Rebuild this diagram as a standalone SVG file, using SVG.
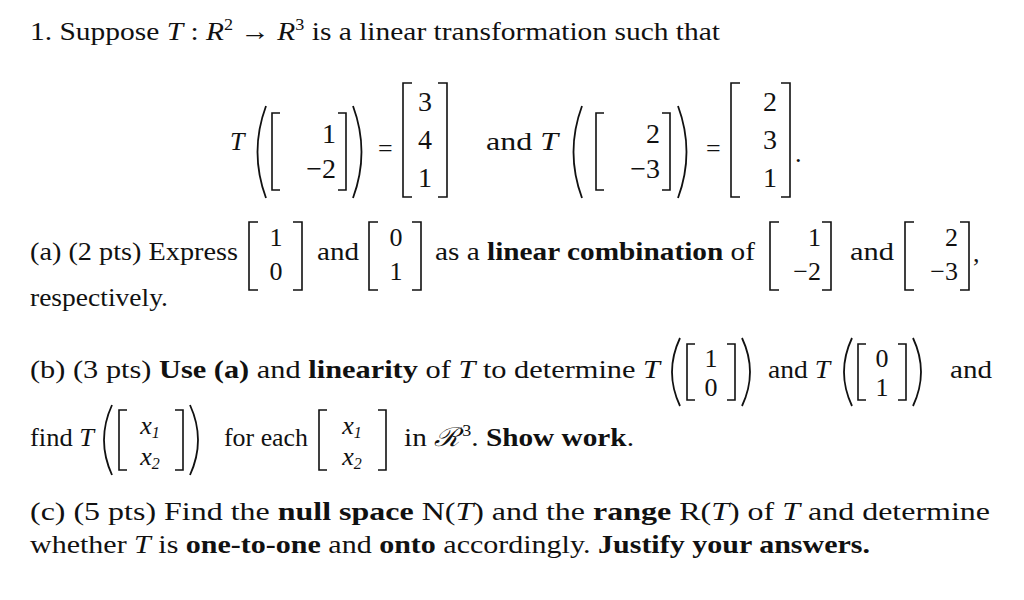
<svg xmlns="http://www.w3.org/2000/svg" width="1024" height="600" viewBox="0 0 1024 600">
<style>
text{font-family:"Liberation Serif","DejaVu Serif",serif;fill:#111;font-size:26px}
text.s{font-size:26px !important}
text.m{font-size:28px !important}
.i{font-style:italic}
.b{font-weight:bold}
.br{fill:none;stroke:#111;stroke-width:1.6}
.p{fill:none;stroke:#111;stroke-width:1.8}
</style>
<rect width="1024" height="600" fill="#fff"/>
<text x="30" y="40" textLength="690" lengthAdjust="spacingAndGlyphs">1. Suppose <tspan class="i">T</tspan> : <tspan class="i">R</tspan><tspan font-size="16" dy="-10">2</tspan><tspan dy="10"> → </tspan><tspan class="i">R</tspan><tspan font-size="16" dy="-10">3</tspan><tspan dy="10"> is a linear transformation such that</tspan></text>

<!-- equation row -->
<text x="230" y="150" class="i">T</text>
<path class="p" d="M266,106 Q249,152 266,198"/>
<path class="br" d="M280,113 H272 V190 H280"/>
<text class="m" x="336" y="143" text-anchor="end">1</text>
<text class="m" x="336" y="178" text-anchor="end">−2</text>
<path class="br" d="M338,113 H346 V190 H338"/>
<path class="p" d="M353,106 Q370,152 353,198"/>
<text x="378" y="157">=</text>
<path class="br" d="M412,83 H403 V197 H412"/>
<text class="m" x="425" y="111" text-anchor="middle">3</text>
<text class="m" x="425" y="149" text-anchor="middle">4</text>
<text class="m" x="425" y="187" text-anchor="middle">1</text>
<path class="br" d="M438,83 H447 V197 H438"/>
<text x="486" y="150" textLength="72" lengthAdjust="spacingAndGlyphs">and <tspan class="i">T</tspan></text>
<path class="p" d="M582,106 Q565,152 582,198"/>
<path class="br" d="M604,113 H596 V190 H604"/>
<text class="m" x="660" y="143" text-anchor="end">2</text>
<text class="m" x="660" y="178" text-anchor="end">−3</text>
<path class="br" d="M662,113 H670 V190 H662"/>
<path class="p" d="M678,106 Q695,152 678,198"/>
<text x="706" y="157">=</text>
<path class="br" d="M740,83 H731 V197 H740"/>
<text class="m" x="770" y="111" text-anchor="middle">2</text>
<text class="m" x="770" y="149" text-anchor="middle">3</text>
<text class="m" x="770" y="187" text-anchor="middle">1</text>
<path class="br" d="M781,83 H790 V197 H781"/>
<text x="795" y="162">.</text>

<!-- (a) -->
<text x="30" y="260" textLength="208" lengthAdjust="spacingAndGlyphs">(a) (2 pts) Express</text>
<path class="br" d="M258,222 H249 V290 H258"/>
<text class="s" x="276" y="246" text-anchor="middle">1</text>
<text class="s" x="276" y="280" text-anchor="middle">0</text>
<path class="br" d="M293,222 H302 V290 H293"/>
<text x="317" y="260" textLength="42" lengthAdjust="spacingAndGlyphs">and</text>
<path class="br" d="M378,222 H369 V290 H378"/>
<text class="s" x="396" y="246" text-anchor="middle">0</text>
<text class="s" x="396" y="280" text-anchor="middle">1</text>
<path class="br" d="M412,222 H421 V290 H412"/>
<text x="435" y="260" textLength="320" lengthAdjust="spacingAndGlyphs">as a <tspan class="b">linear combination</tspan> of</text>
<path class="br" d="M779,222 H770 V290 H779"/>
<text class="s" x="821" y="246" text-anchor="end">1</text>
<text class="s" x="821" y="280" text-anchor="end">−2</text>
<path class="br" d="M822,222 H831 V290 H822"/>
<text x="850" y="260" textLength="44" lengthAdjust="spacingAndGlyphs">and</text>
<path class="br" d="M914,222 H905 V290 H914"/>
<text class="s" x="958" y="246" text-anchor="end">2</text>
<text class="s" x="958" y="280" text-anchor="end">−3</text>
<path class="br" d="M960,222 H969 V290 H960"/>
<text x="973" y="262">,</text>
<text x="30" y="306" textLength="138" lengthAdjust="spacingAndGlyphs">respectively.</text>

<!-- (b) -->
<text x="30" y="378" textLength="630" lengthAdjust="spacingAndGlyphs">(b) (3 pts) <tspan class="b">Use (a)</tspan> and <tspan class="b">linearity</tspan> of <tspan class="i">T</tspan> to determine <tspan class="i">T</tspan></text>
<path class="p" d="M680,338 Q664,372 680,406"/>
<path class="br" d="M695,344 H687 V400 H695"/>
<text class="s" x="711" y="367" text-anchor="middle">1</text>
<text class="s" x="711" y="396" text-anchor="middle">0</text>
<path class="br" d="M727,344 H735 V400 H727"/>
<path class="p" d="M742,338 Q758,372 742,406"/>
<text x="768" y="378" textLength="62" lengthAdjust="spacingAndGlyphs">and <tspan class="i">T</tspan></text>
<path class="p" d="M852,338 Q836,372 852,406"/>
<path class="br" d="M866,344 H858 V400 H866"/>
<text class="s" x="882" y="367" text-anchor="middle">0</text>
<text class="s" x="882" y="396" text-anchor="middle">1</text>
<path class="br" d="M898,344 H906 V400 H898"/>
<path class="p" d="M913,338 Q929,372 913,406"/>
<text x="950" y="378" textLength="42" lengthAdjust="spacingAndGlyphs">and</text>

<text x="30" y="446" textLength="64" lengthAdjust="spacingAndGlyphs">find <tspan class="i">T</tspan></text>
<path class="p" d="M112,405 Q96,440 112,475"/>
<path class="br" d="M127,410 H119 V470 H127"/>
<text class="s i" x="150" y="434" text-anchor="middle">x<tspan font-size="16" dy="4">1</tspan></text>
<text class="s i" x="150" y="465" text-anchor="middle">x<tspan font-size="16" dy="4">2</tspan></text>
<path class="br" d="M175,410 H183 V470 H175"/>
<path class="p" d="M190,405 Q206,440 190,475"/>
<text x="224" y="446" textLength="84" lengthAdjust="spacingAndGlyphs">for each</text>
<path class="br" d="M327,410 H319 V470 H327"/>
<text class="s i" x="352" y="434" text-anchor="middle">x<tspan font-size="16" dy="4">1</tspan></text>
<text class="s i" x="352" y="465" text-anchor="middle">x<tspan font-size="16" dy="4">2</tspan></text>
<path class="br" d="M378,410 H386 V470 H378"/>
<text x="404" y="446" textLength="230" lengthAdjust="spacingAndGlyphs">in <tspan font-family="'DejaVu Serif',serif" font-style="italic">ℛ</tspan><tspan font-size="16" dx="2" dy="-10">3</tspan><tspan dy="10">. </tspan><tspan class="b">Show work</tspan>.</text>

<!-- (c) -->
<text x="30" y="520" textLength="960" lengthAdjust="spacingAndGlyphs">(c) (5 pts) Find the <tspan class="b">null space</tspan> N(<tspan class="i">T</tspan>) and the <tspan class="b">range</tspan> R(<tspan class="i">T</tspan>) of <tspan class="i">T</tspan> and determine</text>
<text x="30" y="553" textLength="840" lengthAdjust="spacingAndGlyphs">whether <tspan class="i">T</tspan> is <tspan class="b">one-to-one</tspan> and <tspan class="b">onto</tspan> accordingly. <tspan class="b">Justify your answers.</tspan></text>
</svg>
